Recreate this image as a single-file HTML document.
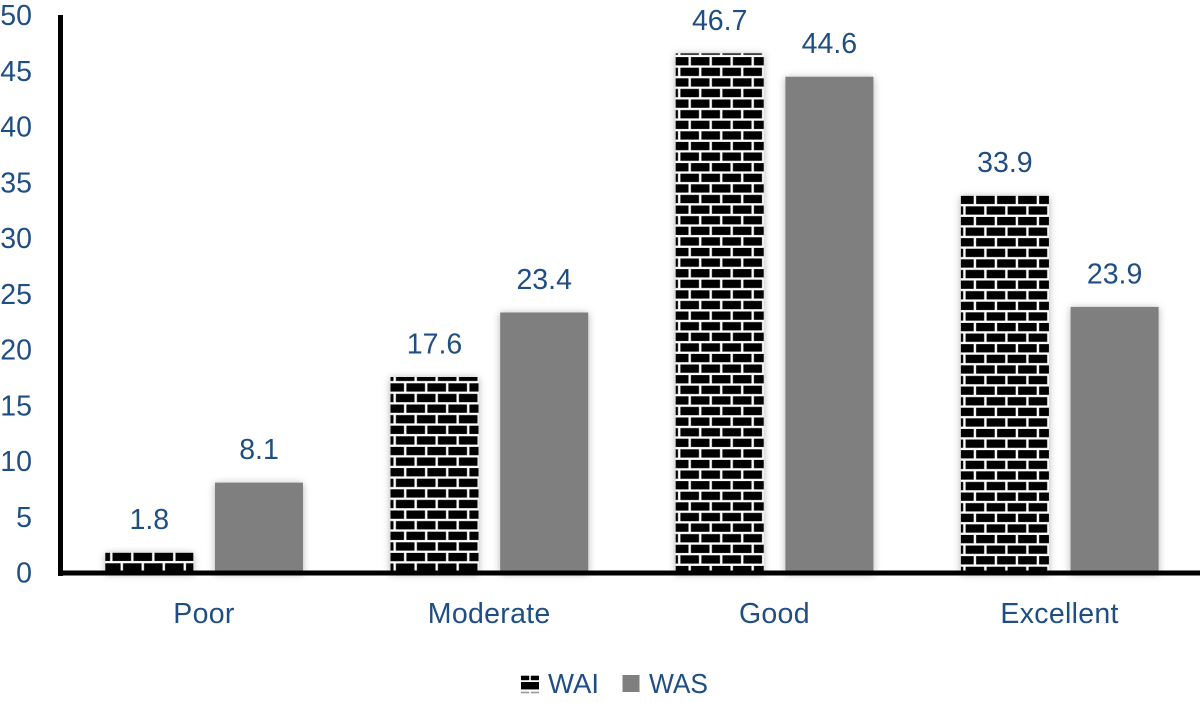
<!DOCTYPE html>
<html>
<head>
<meta charset="utf-8">
<title>WAI and WAS by category</title>
<style>
html,body{margin:0;padding:0;background:#fff;width:1200px;height:703px;overflow:hidden}
svg{display:block}
text{font-family:"Liberation Sans",sans-serif;fill:#1f4e84;font-size:28.5px}
.cat{letter-spacing:.3px}
.legend{font-size:28px}
.bar{filter:blur(.3px) drop-shadow(0 1px 4px rgba(0,0,0,.3))}
</style>
</head>
<body>
<svg id="chart" xmlns="http://www.w3.org/2000/svg" width="1200" height="703" viewBox="0 0 1200 703"></svg>
<script>
const categories = ["Poor", "Moderate", "Good", "Excellent"];
const waiValues = [1.8, 17.6, 46.7, 33.9];
const wasValues = [8.1, 23.4, 44.6, 23.9];
const tickValues = [0, 5, 10, 15, 20, 25, 30, 35, 40, 45, 50];
const seriesNames = ["WAI", "WAS"];

const NS = "http://www.w3.org/2000/svg";
const svg = document.getElementById("chart");
const defs = document.createElementNS(NS, "defs");
svg.appendChild(defs);

function make(tag, attrs, parent) {
  const el = document.createElementNS(NS, tag);
  for (const k in attrs) el.setAttribute(k, attrs[k]);
  (parent || svg).appendChild(el);
  return el;
}
function yScale(v) { return 572.7 - v * 11.12; }
function tickBaseline(v) { return 582.5 - v * 11.15; }
function bandCenter(i) { return 204 + i * 285.2; }
const barWidth = 88;

/* brick texture: tile is anchored to each bar's top-left corner */
function brickPattern(id, left, top, phaseX, phaseY) {
  const p = make("pattern", {
    id: id, patternUnits: "userSpaceOnUse", width: 21, height: 21.2,
    x: left + phaseX, y: top + phaseY
  }, defs);
  make("rect", {x: 0, y: 0, width: 21, height: 21.2, fill: "#fff"}, p);
  make("rect", {x: 1.2, y: 0, width: 18.6, height: 8.3, fill: "#000"}, p);
  make("rect", {x: 11.7, y: 10.6, width: 18.6, height: 8.3, fill: "#000"}, p);
  make("rect", {x: -9.3, y: 10.6, width: 18.6, height: 8.3, fill: "#000"}, p);
}
const texturePhase = (function () {
  return [[6, 0], [14.7, 6.3], [14, 3.7], [14, 0]];
})();

categories.forEach(function (c, i) {
  const cx = bandCenter(i);
  const x1 = cx - 98.7, x2 = cx + 11;
  const baseY = yScale(0);
  const t1 = yScale(waiValues[i]), t2 = yScale(wasValues[i]);
  const pid = "brick-" + i;
  brickPattern(pid, x1, t1, texturePhase[i][0], texturePhase[i][1]);

  const b1 = make("rect", {class: "bar", x: x1, y: t1, width: barWidth, height: baseY - t1, fill: "url(#" + pid + ")"});
  
  

  const b2 = make("rect", {class: "bar", x: x2, y: t2, width: barWidth, height: baseY - t2, fill: "#7f7f7f"});
  
  

  const l1 = make("text", {x: x1 + barWidth / 2, y: t1 - 23.5, "text-anchor": "middle"});
  l1.textContent = waiValues[i].toFixed(1);
  
  

  const l2 = make("text", {x: x2 + barWidth / 2, y: t2 - 23.5, "text-anchor": "middle"});
  l2.textContent = wasValues[i].toFixed(1);
  
  

  const cat = make("text", {class: "cat", x: cx, y: 623, "text-anchor": "middle"});
  cat.textContent = c;
  
  
});

tickValues.forEach(function (t) {
  const el = make("text", {x: 32, y: tickBaseline(t), "text-anchor": "end"});
  el.textContent = t;
  
  
});

const yAxis = make("rect", {x: 58, y: 15, width: 5, height: 561, fill: "#000"});



const xAxis = make("rect", {x: 58, y: 570.5, width: 1142, height: 5, fill: "#000"});



const sw1 = make("g", {});


make("rect", {x: 521, y: 675.7, width: 8.2, height: 4.5, fill: "#000"}, sw1);
make("rect", {x: 530.8, y: 675.7, width: 8.2, height: 4.5, fill: "#000"}, sw1);
make("rect", {x: 521, y: 682, width: 18, height: 7.4, fill: "#000"}, sw1);
make("rect", {x: 521, y: 691.7, width: 8.2, height: 1.6, fill: "#999"}, sw1);
make("rect", {x: 530.8, y: 691.7, width: 8.2, height: 1.6, fill: "#999"}, sw1);

const lt1 = make("text", {x: 548, y: 693, class: "legend", textLength: 51, lengthAdjust: "spacingAndGlyphs"});
lt1.textContent = seriesNames[0];



const sw2 = make("rect", {x: 622.5, y: 675, width: 17, height: 17, fill: "#7f7f7f"});



const lt2 = make("text", {x: 649, y: 693, class: "legend", textLength: 59, lengthAdjust: "spacingAndGlyphs"});
lt2.textContent = seriesNames[1];


</script>
</body>
</html>
